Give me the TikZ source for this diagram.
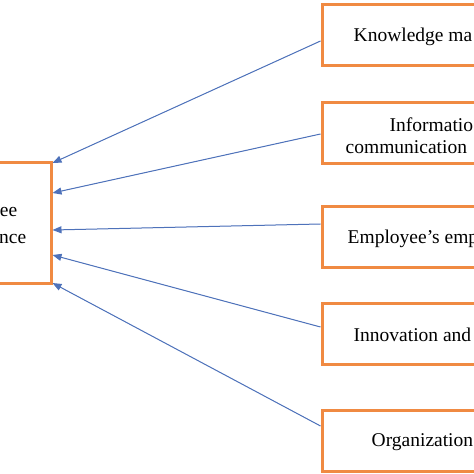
\documentclass[tikz,border=0pt]{standalone}
\usepackage{fontspec}
\setmainfont{Liberation Serif}
\usetikzlibrary{arrows.meta,positioning}
\definecolor{boxorange}{RGB}{240,138,66}
\definecolor{linkblue}{RGB}{78,114,186}
\tikzset{
    factor/.style={draw=boxorange, line width=3pt, minimum width=255pt, minimum height=61pt, inner sep=0pt},
    txt/.style={font=\fontsize{19.5}{23}\selectfont, inner sep=0pt, anchor=base west},
    link/.style={->, draw=linkblue, fill=linkblue, line width=1pt}
}
\begin{document}
\begin{tikzpicture}[x=1pt,y=1pt,>={Triangle[length=9pt,width=7pt]}]
\useasboundingbox (0,0) rectangle (474,474);
% outcome box
\node[factor, minimum width=148pt, minimum height=121pt] (perf) at (-23,250.5) {};
\node[txt, anchor=base east] (perfa) at ([xshift=-35pt,yshift=6.8pt]perf.east) {ee};
\node[txt, anchor=base east] (perfb) at ([xshift=-26pt,yshift=-19.8pt]perf.east) {nce};
% factor boxes
\node[factor] (know) at (449.5,439) {};
\node[factor] (ict)  at (449.5,341) {};
\node[factor] (emp)  at (449.5,236.5) {};
\node[factor] (inno) at (449.5,140) {};
\node[factor] (org)  at (449.5,33) {};
% labels
\node[txt] (knowt) at ([xshift=33pt,yshift=-6.7pt]know.west) {Knowledge ma};
\node[txt] (icta)  at ([xshift=69pt,yshift=1pt]ict.west) {Informatio};
\node[txt] (ictb)  at ([xshift=25pt,yshift=-21pt]ict.west) {communication};
\node[txt] (empt)  at ([xshift=27pt,yshift=-6.5pt]emp.west) {Employee’s emp};
\node[txt] (innot) at ([xshift=33pt,yshift=-7.7pt]inno.west) {Innovation and};
\node[txt] (orgt)  at ([xshift=51pt,yshift=-5.7pt]org.west) {Organization};
% links
\foreach \src/\sy/\ey in {know/-6/60.5, ict/-1/30.5, emp/13.5/-6.5, inno/7/-31.5, org/15/-59.5} {%
\draw[link] ([yshift=\sy pt]\src.west) -- ([yshift=\ey pt]perf.east);
};
\end{tikzpicture}
\end{document}
